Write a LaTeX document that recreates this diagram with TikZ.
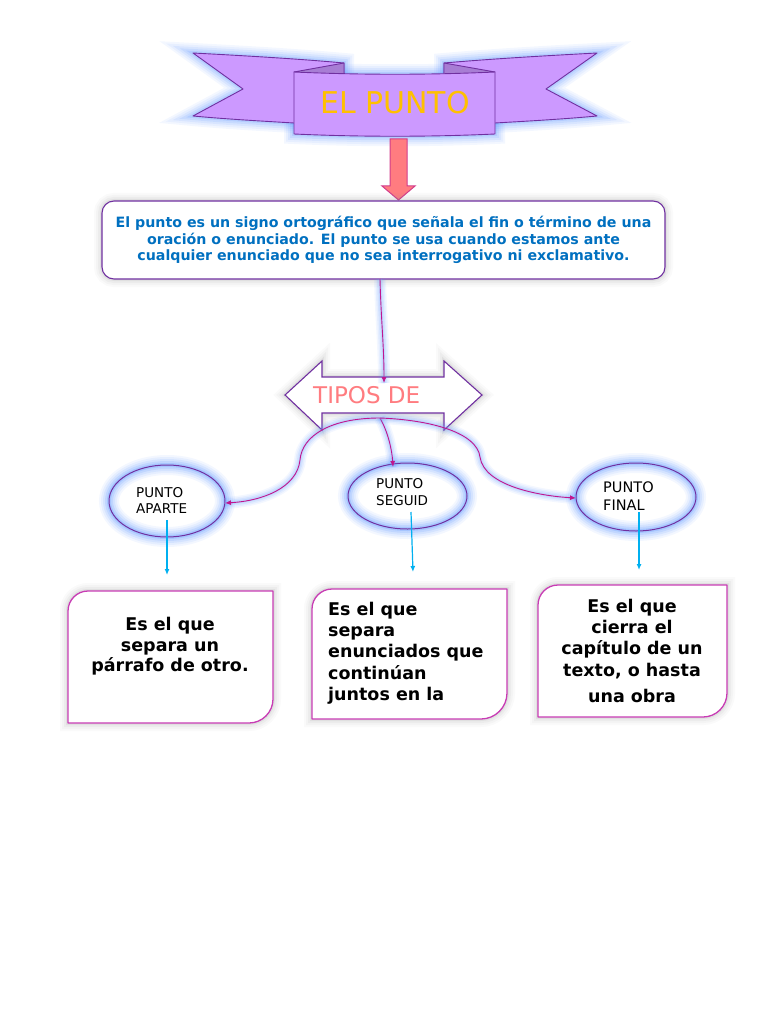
\documentclass[tikz,border=0pt]{standalone}
\usepackage{fontspec}
\setmainfont{DejaVu Sans}
\usetikzlibrary{arrows.meta,shapes.geometric}
\definecolor{ribfill}{HTML}{CC99FF}
\definecolor{ribdark}{HTML}{A77DD4}
\definecolor{purp}{HTML}{7030A0}
\definecolor{gold}{HTML}{FFC000}
\definecolor{salmon}{HTML}{FF7C80}
\definecolor{pinkedge}{HTML}{D23C8C}
\definecolor{magline}{HTML}{C0168F}
\definecolor{magbox}{HTML}{C83CB4}
\definecolor{skyb}{HTML}{00B0F0}
\definecolor{txtblue}{HTML}{0070C0}
\definecolor{glowb}{HTML}{5C95FF}
\definecolor{shad}{HTML}{8C8C8C}
\tikzset{
  glowshape/.style={draw=glowb,line width=20pt,opacity=.07,
    preaction={draw=glowb,line width=16pt,opacity=.08},
    preaction={draw=glowb,line width=12pt,opacity=.10},
    preaction={draw=glowb,line width=8pt,opacity=.13},
    preaction={draw=glowb,line width=4pt,opacity=.18}},
  glowline/.style={
    preaction={draw=glowb,line width=12pt,opacity=.07,arrows=-},
    preaction={draw=glowb,line width=9pt,opacity=.09,arrows=-},
    preaction={draw=glowb,line width=6pt,opacity=.12,arrows=-},
    preaction={draw=glowb!70,line width=3pt,opacity=.25,arrows=-}},
  shadowed/.style={
    preaction={draw=shad,line width=16pt,opacity=.04},
    preaction={draw=shad,line width=12pt,opacity=.05},
    preaction={draw=shad,line width=8pt,opacity=.07},
    preaction={draw=shad,line width=4pt,opacity=.12},
    preaction={fill=white}},
  ribbon/.style={fill=ribfill,draw=purp,line width=0.9pt,line join=round},
  ellip/.style={ellipse,inner sep=0pt,
    preaction={fill=white},
    preaction={draw=glowb,line width=20pt,opacity=.07},
    preaction={draw=glowb,line width=16pt,opacity=.09},
    preaction={draw=glowb,line width=12pt,opacity=.12},
    preaction={draw=glowb,line width=8pt,opacity=.16},
    preaction={draw=glowb,line width=4pt,opacity=.25},
    draw=purp,line width=1pt},
  elliptxt/.style={anchor=north west,align=left,inner sep=0pt,text=black},
  maglink/.style={draw=magline,line width=0.9pt,glowline,-{Latex[length=6pt,width=5pt]}},
  bluelink/.style={draw=skyb,line width=1.2pt,-{Latex[length=6pt,width=5pt]}},
  bottombox/.style={shadowed,draw=magbox,line width=1.3pt,line join=round},
  boxtxt/.style={inner sep=0pt,text=black,font=\fontsize{17.5}{20.5}\selectfont\bfseries}
}
\newcommand{\ribL}{(193,53) .. controls (250,56) and (300,59) .. (344,63) -- (344,110) -- (294,123) .. controls (260,121) and (225,119) .. (193,116) -- (243,89) -- cycle}
\newcommand{\ribR}{(597,53) .. controls (540,56) and (490,59) .. (444,63) -- (444,110) -- (495,123) .. controls (530,121) and (565,119) .. (597,116) -- (546,89) -- cycle}
\newcommand{\ribC}{(294,72) .. controls (360,75) and (430,75) .. (495,72) -- (495,134) .. controls (430,137) and (360,137) .. (294,134) -- cycle}
\begin{document}
\begin{tikzpicture}[x=1pt,y=-1pt]
\fill[white] (0,0) rectangle (768,1024);
\useasboundingbox (0,0) rectangle (768,1024);

% ---------- banner ----------
\path[glowshape] \ribL;
\path[glowshape] \ribR;
\path[glowshape] \ribC;
\path[ribbon] \ribL;
\path[ribbon] \ribR;
\path[fill=ribdark,draw=purp,line width=0.9pt,line join=round] (294,72) -- (344,63) -- (344,76) -- cycle;
\path[fill=ribdark,draw=purp,line width=0.9pt,line join=round] (495,72) -- (444,63) -- (444,76) -- cycle;
\path[ribbon] \ribC;
\node[anchor=base,inner sep=0pt,text=gold,font=\fontsize{30}{36}\selectfont] (title) at (395,114) {EL PUNTO};

% ---------- block arrow down ----------
\path[fill=salmon,draw=pinkedge,line width=1pt,line join=miter]
  (390,139) -- (407,139) -- (407,186) -- (415,186) -- (398.5,200) -- (382,186) -- (390,186) -- cycle;

% ---------- description box ----------
\node[shadowed,draw=purp,line width=1.1pt,rounded corners=12pt,
      minimum width=563pt,minimum height=78pt,align=center,inner sep=0pt,
      text=txtblue,font=\fontsize{14.2}{16.5}\selectfont\bfseries] (desc) at (383.5,240)
  {El punto es un signo ortográfico que señala el fin o término de una\\
   oración o enunciado. El punto se usa cuando estamos ante\\
   cualquier enunciado que no sea interrogativo ni exclamativo.};

% ---------- TIPOS DE double arrow ----------
\path[shadowed,draw=purp,line width=1.1pt,line join=miter]
  (285,395) -- (322,361) -- (322,377) -- (444,377) -- (444,361) -- (482,395)
  -- (444,430) -- (444,413) -- (322,413) -- (322,430) -- cycle;
\node[anchor=base west,inner sep=0pt,text=salmon,font=\fontsize{23}{28}\selectfont] (tipos) at (313,403) {TIPOS DE};

% ---------- ellipses ----------
\node[ellip,minimum width=116pt,minimum height=72pt] (ap) at (167,501) {};
\node[ellip,minimum width=119pt,minimum height=66pt] (sg) at (407.5,496) {};
\node[ellip,minimum width=120pt,minimum height=68pt] (fn) at (636,497) {};
\node[elliptxt,font=\fontsize{13.5}{16}\selectfont] (aptxt) at (136,487) {PUNTO\\APARTE};
\node[elliptxt,font=\fontsize{13.5}{17}\selectfont] (sgtxt) at (376,478) {PUNTO\\SEGUID};
\node[elliptxt,font=\fontsize{14.5}{18}\selectfont] (fntxt) at (603,481.5) {PUNTO\\FINAL};

% ---------- magenta connectors ----------
\coordinate (dsrc) at (380,279);
\coordinate (tin) at (384,383);
\coordinate (tout) at (380,418);
\coordinate (apin) at (225,503);
\coordinate (sgin) at (393,467);
\coordinate (fnin) at (576,498);
\draw[maglink] (dsrc) .. controls (381,320) and (384,345) .. (tin);
\draw[maglink] (tout) .. controls (388,432) and (392,450) .. (sgin);
\draw[maglink] (tout) .. controls (330,418) and (302,436) .. (300,460)
  .. controls (297,488) and (262,501) .. (apin);
\draw[maglink] (tout) .. controls (432,420) and (477,433) .. (480,457)
  .. controls (484,486) and (540,496) .. (fnin);

% ---------- blue arrows ----------
\coordinate (aps) at (167,520);
\coordinate (apd) at (167,575);
\coordinate (sgs) at (411,512);
\coordinate (sgd) at (413,572);
\coordinate (fns) at (639,512);
\coordinate (fnd) at (639,570);
\draw[bluelink] (aps) -- (apd);
\draw[bluelink] (sgs) -- (sgd);
\draw[bluelink] (fns) -- (fnd);

% ---------- bottom boxes ----------
\path[bottombox] (273,591) -- (88,591) .. controls (77,591) and (68,600) .. (68,611)
  -- (68,723) -- (249,723) .. controls (262.2,723) and (273,712.2) .. (273,699) -- cycle;
\path[bottombox] (507,589) -- (332,589) .. controls (321,589) and (312,598) .. (312,609)
  -- (312,719) -- (481,719) .. controls (495.3,719) and (507,707.3) .. (507,693) -- cycle;
\path[bottombox] (727,585) -- (558,585) .. controls (547,585) and (538,594) .. (538,605)
  -- (538,717) -- (703,717) .. controls (716.2,717) and (727,706.2) .. (727,693) -- cycle;

\node[boxtxt,anchor=north,align=center] (b1) at (170,617) {Es el que\\separa un\\párrafo de otro.};
\node[boxtxt,anchor=north west,align=left,font=\fontsize{17.5}{21.3}\selectfont\bfseries] (b2) at (328,601.7) {Es el que\\separa\\enunciados que\\continúan\\juntos en la};
\node[boxtxt,anchor=north,align=center,font=\fontsize{17.5}{21.3}\selectfont\bfseries] (b3) at (632,598.7) {Es el que\\cierra el\\capítulo de un\\texto, o hasta\\[5pt]una obra};
\end{tikzpicture}
\end{document}
